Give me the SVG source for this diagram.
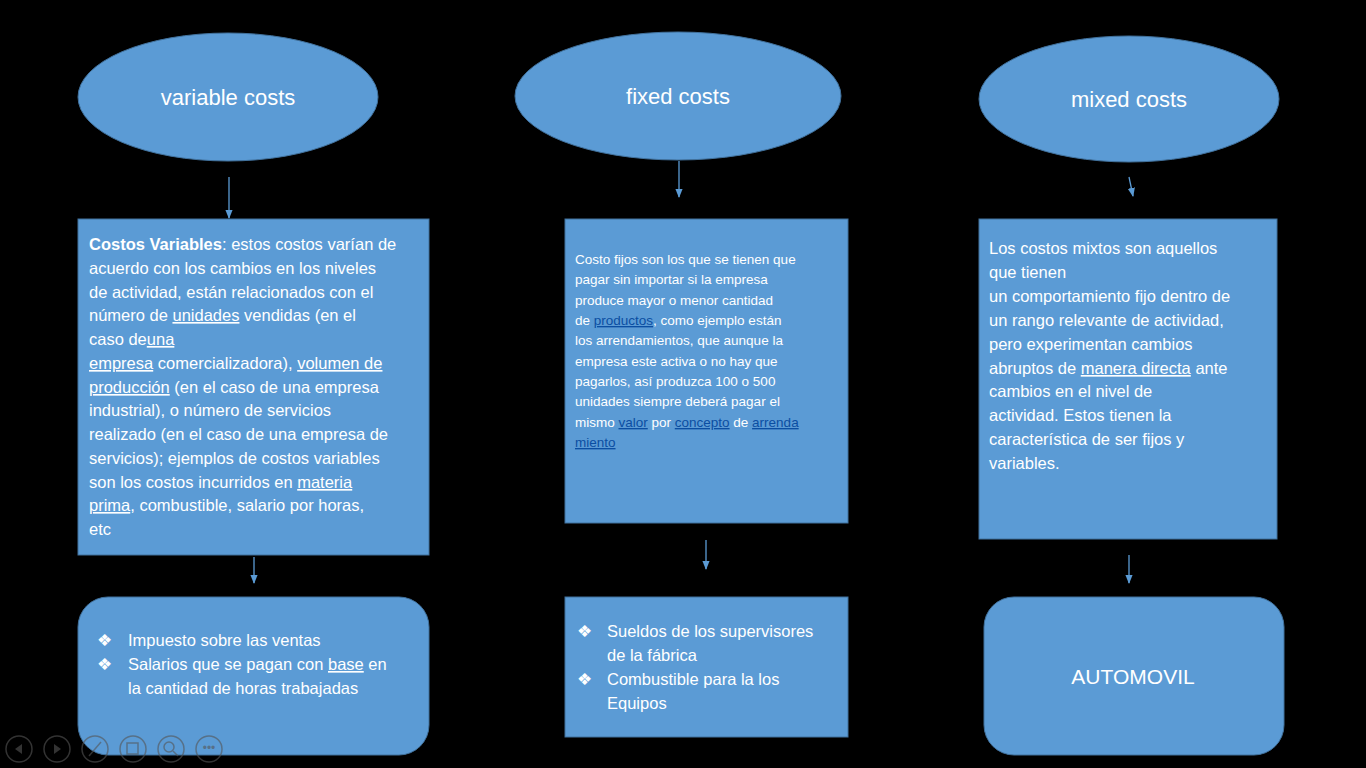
<svg xmlns="http://www.w3.org/2000/svg" width="1366" height="768" viewBox="0 0 1366 768">
<defs>
<style>
.sh{fill:#5b9bd5;stroke:#41719c;stroke-width:1}
.t{font-family:"Liberation Sans",Arial,sans-serif;fill:#fff}
.u{text-decoration:underline}
.lk{fill:#0b4ea2;text-decoration:underline}
.c{stroke:#5b9bd5;stroke-width:1.3;fill:none}
.ui{fill:none;stroke:#555;stroke-width:1.5}
</style>
<marker id="a" viewBox="0 0 10 10" refX="9" refY="5" markerWidth="7" markerHeight="7" orient="auto"><path d="M0,1 L10,5 L0,9 z" fill="#5b9bd5"/></marker>
</defs>
<rect width="1366" height="768" fill="#000"/>
<g id="e1"><ellipse class="sh" cx="228" cy="97" rx="150" ry="64"/><text class="t" x="228" y="105" font-size="22" text-anchor="middle">variable costs</text></g>
<g id="e2"><ellipse class="sh" cx="678" cy="96" rx="163" ry="64"/><text class="t" x="678" y="104" font-size="22" text-anchor="middle">fixed costs</text></g>
<g id="e3"><ellipse class="sh" cx="1129" cy="99" rx="150" ry="63"/><text class="t" x="1129" y="107" font-size="22" text-anchor="middle">mixed costs</text></g>
<g id="b1"><rect class="sh" x="78" y="219" width="351" height="336"/>
<text class="t" font-size="16.5">
<tspan x="89" y="250"><tspan font-weight="bold">Costos Variables</tspan>: estos costos varían de</tspan>
<tspan x="89" y="274">acuerdo con los cambios en los niveles</tspan>
<tspan x="89" y="298">de actividad, están relacionados con el</tspan>
<tspan x="89" y="321">número de <tspan class="u">unidades</tspan> vendidas (en el</tspan>
<tspan x="89" y="345">caso de<tspan class="u">una</tspan></tspan>
<tspan x="89" y="369"><tspan class="u">empresa</tspan> comercializadora), <tspan class="u">volumen de</tspan></tspan>
<tspan x="89" y="393"><tspan class="u">producción</tspan> (en el caso de una empresa</tspan>
<tspan x="89" y="416">industrial), o número de servicios</tspan>
<tspan x="89" y="440">realizado (en el caso de una empresa de</tspan>
<tspan x="89" y="464">servicios); ejemplos de costos variables</tspan>
<tspan x="89" y="488">son los costos incurridos en <tspan class="u">materia</tspan></tspan>
<tspan x="89" y="511"><tspan class="u">prima</tspan>, combustible, salario por horas,</tspan>
<tspan x="89" y="535">etc</tspan>
</text></g>
<g id="b2"><rect class="sh" x="565" y="219" width="283" height="304"/>
<text class="t" font-size="13.5">
<tspan x="575" y="264">Costo fijos son los que se tienen que</tspan>
<tspan x="575" y="284">pagar sin importar si la empresa</tspan>
<tspan x="575" y="305">produce mayor o menor cantidad</tspan>
<tspan x="575" y="325">de <tspan class="lk">productos</tspan>, como ejemplo están</tspan>
<tspan x="575" y="345">los arrendamientos, que aunque la</tspan>
<tspan x="575" y="366">empresa este activa o no hay que</tspan>
<tspan x="575" y="386">pagarlos, así produzca 100 o 500</tspan>
<tspan x="575" y="406">unidades siempre deberá pagar el</tspan>
<tspan x="575" y="427">mismo <tspan class="lk">valor</tspan> por <tspan class="lk">concepto</tspan> de <tspan class="lk">arrenda</tspan></tspan>
<tspan x="575" y="447" class="lk">miento</tspan>
</text></g>
<g id="b3"><rect class="sh" x="979" y="219" width="298" height="320"/>
<text class="t" font-size="16.5">
<tspan x="989" y="254">Los costos mixtos son aquellos</tspan>
<tspan x="989" y="278">que tienen</tspan>
<tspan x="989" y="302">un comportamiento fijo dentro de</tspan>
<tspan x="989" y="326">un rango relevante de actividad,</tspan>
<tspan x="989" y="350">pero experimentan cambios</tspan>
<tspan x="989" y="374">abruptos de <tspan class="u">manera directa</tspan> ante</tspan>
<tspan x="989" y="397">cambios en el nivel de</tspan>
<tspan x="989" y="421">actividad.  Estos tienen la</tspan>
<tspan x="989" y="445">característica de ser fijos y</tspan>
<tspan x="989" y="469">variables.</tspan>
</text></g>
<g id="c1"><rect class="sh" x="78" y="597" width="351" height="158" rx="30"/>
<text class="t" font-size="16.5">
<tspan x="97" y="646">❖</tspan><tspan x="128" y="646">Impuesto sobre las ventas</tspan>
<tspan x="97" y="670">❖</tspan><tspan x="128" y="670">Salarios que se pagan con <tspan class="u">base</tspan> en</tspan>
<tspan x="128" y="694">la cantidad de horas trabajadas</tspan>
</text></g>
<g id="c2"><rect class="sh" x="565" y="597" width="283" height="140"/>
<text class="t" font-size="16.5">
<tspan x="577" y="637">❖</tspan><tspan x="607" y="637">Sueldos de los supervisores</tspan>
<tspan x="607" y="661">de la fábrica</tspan>
<tspan x="577" y="685">❖</tspan><tspan x="607" y="685">Combustible para la  los</tspan>
<tspan x="607" y="709">Equipos</tspan>
</text></g>
<g id="c3"><rect class="sh" x="984" y="597" width="300" height="158" rx="30"/>
<text class="t" x="1133" y="684" font-size="21" text-anchor="middle">AUTOMOVIL</text></g>
<g id="connectors">
<line class="c" x1="229" y1="177" x2="229" y2="218" marker-end="url(#a)"/>
<line class="c" x1="679" y1="161" x2="679" y2="197" marker-end="url(#a)"/>
<line class="c" x1="1129" y1="177" x2="1133" y2="196" marker-end="url(#a)"/>
<line class="c" x1="254" y1="557" x2="254" y2="583" marker-end="url(#a)"/>
<line class="c" x1="706" y1="540" x2="706" y2="569" marker-end="url(#a)"/>
<line class="c" x1="1129" y1="555" x2="1129" y2="583" marker-end="url(#a)"/>
</g>
<g opacity="0.6">
<circle class="ui" cx="19" cy="749" r="13"/><path d="M22,744 L15,749 L22,754z" fill="#555"/>
<circle class="ui" cx="57" cy="749" r="13"/><path d="M54,744 L61,749 L54,754z" fill="#555"/>
<circle class="ui" cx="95" cy="749" r="13"/><line class="ui" x1="89" y1="756" x2="101" y2="742"/>
<circle class="ui" cx="133" cy="749" r="13"/><rect class="ui" x="127" y="743" width="11" height="11"/>
<circle class="ui" cx="171" cy="749" r="13"/><circle class="ui" cx="169" cy="747" r="5"/><line class="ui" x1="173" y1="751" x2="178" y2="756"/>
<circle class="ui" cx="209" cy="749" r="13"/><text x="209" y="752" font-family="Liberation Sans,sans-serif" font-size="12" fill="#555" text-anchor="middle">•••</text>
</g>
</svg>
